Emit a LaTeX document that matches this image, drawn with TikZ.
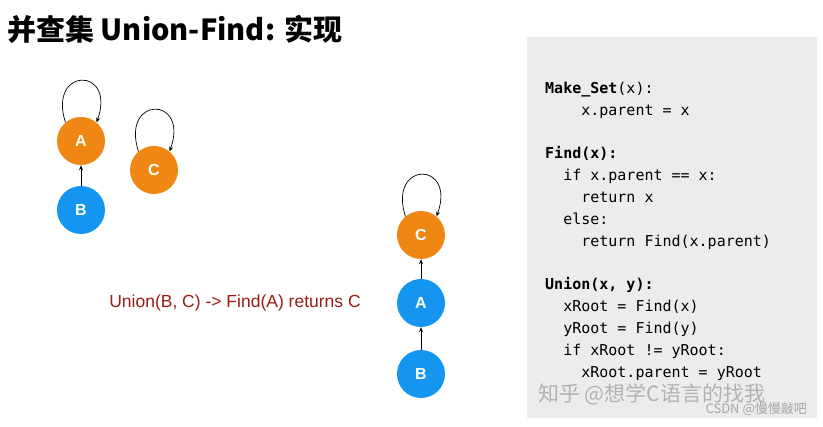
\documentclass[tikz,border=0pt]{standalone}
\usepackage{fontspec}
\setmainfont{Liberation Sans}
\newfontfamily\cjk{Noto Sans CJK SC}
\newfontfamily\codefont{DejaVu Sans Mono}
\usetikzlibrary{arrows.meta}
\definecolor{org}{RGB}{240,135,20}
\definecolor{blu}{RGB}{20,150,240}
\definecolor{dred}{RGB}{150,30,20}
\definecolor{panel}{RGB}{236,236,236}
\begin{document}
\begin{tikzpicture}[x=1pt,y=-1pt,
  vert/.style={circle,minimum size=48pt,inner sep=0pt,text=white,font=\fontsize{16}{16}\selectfont\bfseries},
  onode/.style={vert,fill=org},
  bnode/.style={vert,fill=blu},
  edge/.style={-{Stealth[length=5pt,width=4pt]},black,line width=0.7pt},
  code/.style={anchor=base west,inner sep=0pt,font=\codefont\fontsize{15}{15}\selectfont}]
\useasboundingbox (0,0) rectangle (823,427);
\fill[white] (0,0) rectangle (823,427);
\node[anchor=base west,inner sep=0pt,font=\cjk\bfseries\fontsize{29}{29}\selectfont] (title) at (7,41) {并查集 Union-Find: 实现};
\node[onode] (A1) at (81,141) {A};
\node[onode] (C1) at (154,170) {C};
\node[bnode] (B1) at (81,210) {B};
\draw[edge] (B1) -- (A1);
\draw[edge] (A1.130) .. controls +(-18,-56) and +(20,-56) .. (A1.50);
\draw[edge] (C1.130) .. controls +(-18,-56) and +(20,-56) .. (C1.50);
\node[onode] (C2) at (421,235) {C};
\node[bnode] (A2) at (421,303) {A};
\node[bnode] (B2) at (421,374) {B};
\draw[edge] (A2) -- (C2);
\draw[edge] (B2) -- (A2);
\draw[edge] (C2.130) .. controls +(-18,-56) and +(20,-56) .. (C2.50);
\node[text=dred,font=\fontsize{17.5}{17.5}\selectfont] (lbl) at (235,303) {Union(B, C) -> Find(A) returns C};
\fill[panel] (527,37) rectangle (817,418);
\node[code] (l1) at (545,94) {\textbf{Make\_Set}(x):};
\node[code] (l2) at (545,116) {\ \ \ \ x.parent = x};
\node[code] (l3) at (545,159) {\textbf{Find(x):}};
\node[code] (l4) at (545,181) {\ \ if x.parent == x:};
\node[code] (l5) at (545,203) {\ \ \ \ return x};
\node[code] (l6) at (545,225) {\ \ else:};
\node[code] (l7) at (545,247) {\ \ \ \ return Find(x.parent)};
\node[code] (l8) at (545,290) {\textbf{Union(x, y):}};
\node[code] (l9) at (545,312) {\ \ xRoot = Find(x)};
\node[code] (l10) at (545,334) {\ \ yRoot = Find(y)};
\node[code] (l11) at (545,356) {\ \ if xRoot != yRoot:};
\node[code] (l12) at (545,378) {\ \ \ \ xRoot.parent = yRoot};
\node[anchor=base west,inner sep=0pt,text=gray!60,font=\cjk\fontsize{21}{21}\selectfont] (wm1) at (538,402) {知乎 @想学C语言的找我};
\node[anchor=base east,inner sep=0pt,text=gray!70,font=\cjk\fontsize{13}{13}\selectfont] (wm2) at (807,414) {CSDN @慢慢敲吧};
\end{tikzpicture}
\end{document}
